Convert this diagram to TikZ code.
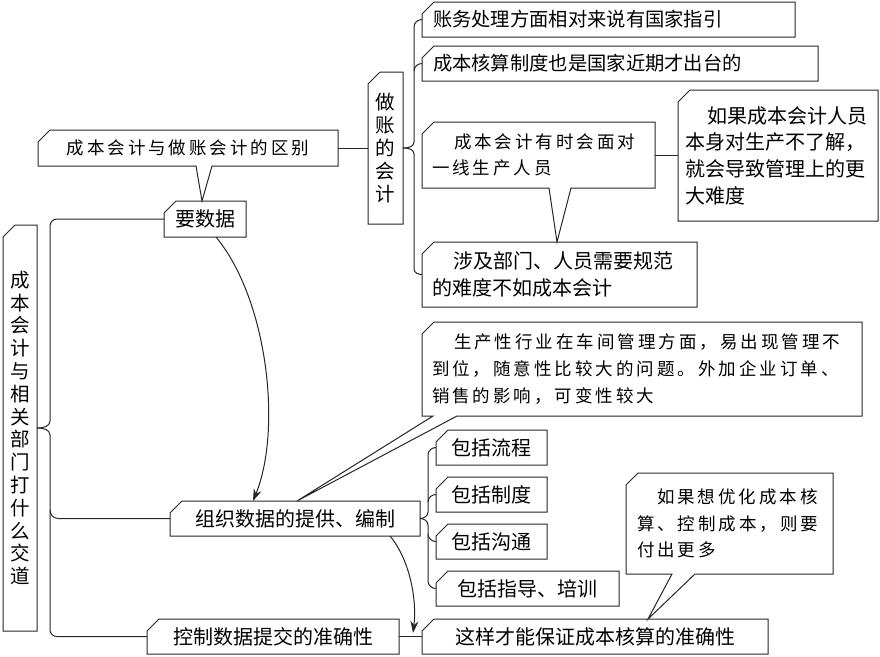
\documentclass[tikz,border=0pt]{standalone}
\usepackage{fontspec}
\setmainfont{Noto Sans CJK SC}
\usetikzlibrary{arrows.meta,calc}
\newcommand\mytxt{\fontsize{20}{26.7}\selectfont}
\newcommand\myrtxt{\fontsize{19.3}{26.7}\selectfont}
\newcommand\myspaced{\fontsize{17.5}{26.7}\selectfont\addfontfeature{LetterSpace=17}}
\begin{document}
\begin{tikzpicture}[x=1pt,y=-1pt,
  ln/.style={draw=black!85,line width=1pt},
  arr/.style={ln,-{Stealth[length=12pt,width=8pt]}},
  box/.style={draw=none,inner sep=0pt,outer sep=0pt,anchor=north west,font=\mytxt,align=center},
  lbox/.style={box,align=left},
  sbox/.style={box,font=\myspaced},
  slbox/.style={box,align=left,font=\myspaced}]
\useasboundingbox (0,0) rectangle (880,656);

% nodes
\node[box,minimum width=34pt,minimum height=406pt,font=\fontsize{19.5}{22.8}\selectfont] (L) at (3,225)
  {成\\本\\会\\计\\与\\相\\关\\部\\门\\打\\什\\么\\交\\道};
\node[box,minimum width=35pt,minimum height=152pt,font=\fontsize{19.5}{23}\selectfont] (zz) at (368,72)
  {做\\账\\的\\会\\计};
\node[sbox,minimum width=300pt,minimum height=36pt] (title) at (38,130) {成本会计与做账会计的区别};
\node[box,minimum width=82pt,minimum height=36pt] (yao) at (164,201) {要数据};
\node[lbox,font=\myrtxt,text width=351pt,inner xsep=11pt,minimum height=35pt] (r1) at (422,2) {账务处理方面相对来说有国家指引};
\node[lbox,font=\myrtxt,text width=374pt,inner xsep=11pt,minimum height=35pt] (r2) at (422,46) {成本核算制度也是国家近期才出台的};
\node[slbox,text width=213pt,inner xsep=10pt,minimum height=66pt] (r3) at (422,122)
  {\hspace*{22pt}成本会计有时会面对\\一线生产人员};
\node[lbox,text width=186pt,inner xsep=7pt,minimum height=131pt] (r3b) at (678,90)
  {\hspace*{22pt}如果成本会计人员\\本身对生产不了解，\\就会导致管理上的更\\大难度};
\node[lbox,text width=255pt,inner xsep=10pt,minimum height=65pt] (r4) at (422,242)
  {\hspace*{21pt}涉及部门、人员需要规范\\的难度不如成本会计};
\node[slbox,text width=420pt,inner xsep=10pt,minimum height=94pt] (sc) at (422,322)
  {\hspace*{22pt}生产性行业在车间管理方面，易出现管理不\\到位，随意性比较大的问题。外加企业订单、\\销售的影响，可变性较大};
\node[box,minimum width=250pt,minimum height=35pt] (zz2) at (170,501) {组织数据的提供、编制};
\node[box,minimum width=111pt,minimum height=35pt] (b1) at (436,430) {包括流程};
\node[box,minimum width=111pt,minimum height=35pt] (b2) at (436,477) {包括制度};
\node[box,minimum width=111pt,minimum height=35pt] (b3) at (436,524) {包括沟通};
\node[box,minimum width=183pt,minimum height=35pt] (b4) at (436,571) {包括指导、培训};
\node[slbox,text width=185pt,inner xsep=11pt,minimum height=101pt] (opt) at (626,473)
  {\hspace*{20pt}如果想优化成本核\\算、控制成本，则要\\付出更多};
\node[box,minimum width=252pt,minimum height=35pt] (kz) at (147,619) {控制数据提交的准确性};
\node[box,minimum width=346pt,minimum height=35pt] (zy) at (422,619) {这样才能保证成本核算的准确性};

% plain chamfered outlines
\foreach \n in {L,zz,yao,r1,r2,r3b,r4,zz2,b1,b2,b3,b4,kz,zy}
  \draw[ln] ([yshift=-12pt]\n.north west) -- ([xshift=12pt]\n.north west) -- (\n.north east)
    -- (\n.south east) -- (\n.south west) -- cycle;

% callout outlines
\draw[ln] ([yshift=-12pt]title.north west) -- ([xshift=12pt]title.north west) -- (title.north east)
  -- (title.south east) -- ($(title.south west)+(174,0)$) -- ([xshift=-3pt]yao.north)
  -- ($(title.south west)+(158,0)$) -- (title.south west) -- cycle;
\draw[ln] ([yshift=-12pt]r3.north west) -- ([xshift=12pt]r3.north west) -- (r3.north east)
  -- (r3.south east) -- ($(r3.south west)+(149,0)$) -- ([xshift=135pt]r4.north west)
  -- ($(r3.south west)+(127,0)$) -- (r3.south west) -- cycle;
\draw[ln] ([yshift=-12pt]sc.north west) -- ([xshift=12pt]sc.north west) -- (sc.north east)
  -- (sc.south east) -- ($(sc.south west)+(35,0)$) -- ([xshift=2pt]zz2.north)
  -- ($(sc.south west)+(11,0)$) -- (sc.south west) -- cycle;
\draw[ln] ([yshift=-12pt]opt.north west) -- ([xshift=12pt]opt.north west) -- (opt.north east)
  -- (opt.south east) -- ($(opt.south west)+(69,0)$) -- ([xshift=226pt]zy.north west)
  -- ($(opt.south west)+(46,0)$) -- (opt.south west) -- cycle;

% straight connectors
\draw[ln] (title.east) -- (zz.west);
\draw[ln] (r3.east) -- (r3.east -| r3b.west);
\draw[ln] (kz.east) -- (zy.west);

% right brace
\draw[ln] (r1.west) to[out=180,in=90] (414,27) -- (414,142) to[out=-90,in=0] (zz.east);
\draw[ln] (zz.east) to[out=0,in=90] (414,154) -- (414,269) to[out=-90,in=180] (r4.west);
\draw[ln] (414,71) to[out=90,in=180] (r2.west);

% left brace
\draw[ln] (yao.west) -- (57,219) to[out=180,in=90] (50,226) -- (50,421) to[out=-90,in=0] (L.east);
\draw[ln] (L.east) to[out=0,in=90] (50,435) -- (50,630) to[out=-90,in=180] (57,636.5) -- (kz.west);
\draw[ln] (50,510) to[out=-90,in=180] (58,518.5) -- (zz2.west);

% brace of the four items
\draw[ln] (b1.west) to[out=180,in=90] (428,455) -- (428,512) to[out=-90,in=0] (zz2.east);
\draw[ln] (zz2.east) to[out=0,in=90] (428,525) -- (428,581) to[out=-90,in=180] (b4.west);
\draw[ln] (428,502) to[out=90,in=180] (b2.west);
\draw[ln] (428,534) to[out=-90,in=180] (b3.west);

% curved arrows
\coordinate (m) at (413,633);
\draw[arr] ([xshift=11pt]yao.south) .. controls (268,300) and (282,430) .. ([xshift=-42pt]zz2.north);
\draw[arr] ([xshift=95pt]zz2.south) .. controls (410,560) and (417,600) .. (m);
\end{tikzpicture}
\end{document}
